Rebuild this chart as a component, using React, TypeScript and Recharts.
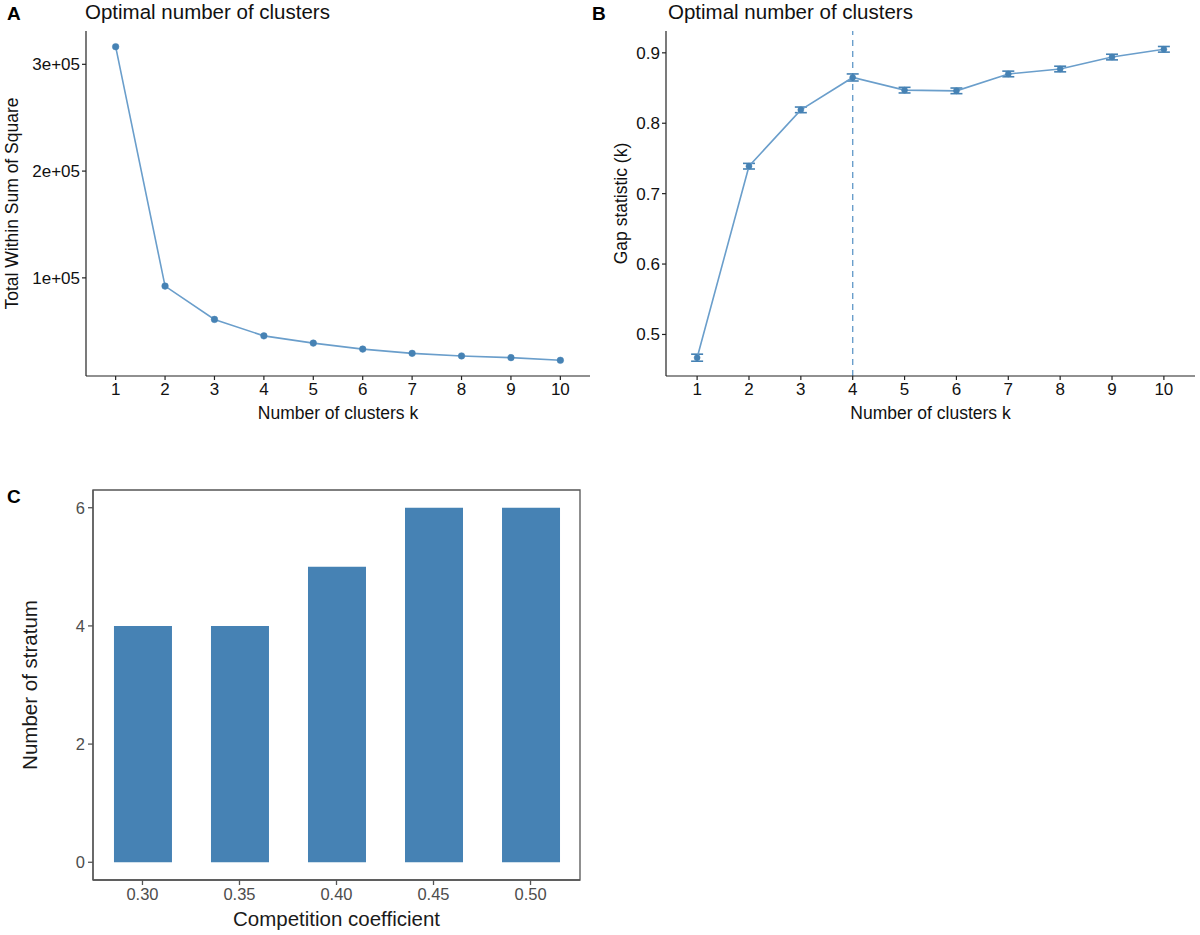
import React from "react";
import {
  LineChart,
  Line,
  BarChart,
  Bar,
  XAxis,
  YAxis,
  ErrorBar,
  ReferenceLine,
  ReferenceArea,
} from "recharts";

// k values shared by panels A and B
const clusterK = [1, 2, 3, 4, 5, 6, 7, 8, 9, 10];
// panel A: total within sum of square
const withinSS = [316500, 92300, 61100, 45700, 38900, 33300, 29300, 26900, 25300, 22800];
const wssTicks = [100000, 200000, 300000];
// panel B: gap statistic and its standard error
const gapStat = [0.467, 0.739, 0.819, 0.865, 0.847, 0.846, 0.87, 0.877, 0.894, 0.905];
const gapSe = [0.005, 0.004, 0.004, 0.005, 0.004, 0.004, 0.004, 0.004, 0.004, 0.004];
const gapTicks = [0.5, 0.6, 0.7, 0.8, 0.9];
const optimalK = 4;
// panel C: number of stratum per competition coefficient
const coefficients = [0.3, 0.35, 0.4, 0.45, 0.5];
const strata = [4, 4, 5, 6, 6];
const strataTicks = [0, 2, 4, 6];

const FONT = "'Liberation Sans', Arial, sans-serif";
const BLUE = "#4682B4";
const LINE_BLUE = "#6a9ecb";

const elbowData = clusterK.map((k, i) => ({ k, wss: withinSS[i] }));
const gapData = clusterK.map((k, i) => ({ k, gap: gapStat[i], se: gapSe[i] }));
const strataData = coefficients.map((c, i) => ({ coef: c, n: strata[i] }));

const C_X_DOMAIN: [number, number] = [0.2745, 0.5255];
const C_Y_DOMAIN: [number, number] = [-0.3, 6.3];

const blackTick = { fill: "#111", fontSize: 17, fontFamily: FONT };
const greyTick = { fill: "#4d4d4d", fontSize: 16.5, fontFamily: FONT };
const axisTitle = { fill: "#111", fontSize: 17.5, fontFamily: FONT };
const axisStroke = { stroke: "#222", strokeWidth: 1.2 };
const greyStroke = { stroke: "#555", strokeWidth: 1.3 };

function PanelTag({ letter, x, y }: { letter: string; x: number; y: number }) {
  return (
    <div
      style={{
        position: "absolute",
        left: x,
        top: y,
        fontFamily: FONT,
        fontWeight: 700,
        fontSize: 19,
        color: "#000",
      }}
    >
      {letter}
    </div>
  );
}

function Title({ text, x, y }: { text: string; x: number; y: number }) {
  return (
    <div
      style={{
        position: "absolute",
        left: x,
        top: y,
        fontFamily: FONT,
        fontSize: 20.5,
        color: "#111",
        whiteSpace: "nowrap",
      }}
    >
      {text}
    </div>
  );
}

export default function App() {
  return (
    <div
      style={{
        position: "absolute",
        left: 0,
        top: 0,
        width: 1200,
        height: 935,
        background: "#fff",
        fontFamily: FONT,
      }}
    >
      <PanelTag letter="A" x={7} y={3} />
      <Title text="Optimal number of clusters" x={85} y={0} />
      <div style={{ position: "absolute", left: 0, top: 0 }}>
        <LineChart
          width={600}
          height={430}
          data={elbowData}
          margin={{ top: 31, right: 10, left: 0, bottom: 0 }}
        >
          <XAxis
            dataKey="k"
            type="number"
            domain={[0.4, 10.6]}
            ticks={clusterK}
            interval={0}
            height={54}
            tick={blackTick}
            tickSize={4}
            tickMargin={3}
            axisLine={axisStroke}
            tickLine={axisStroke}
            label={{
              value: "Number of clusters k",
              position: "insideBottom",
              offset: 11,
              style: axisTitle,
            }}
          />
          <YAxis
            type="number"
            domain={[8100, 331200]}
            ticks={wssTicks}
            width={86}
            tick={blackTick}
            tickSize={4}
            tickMargin={2}
            tickFormatter={(v: number) => `${Math.round(v / 1e5)}e+05`}
            axisLine={axisStroke}
            tickLine={axisStroke}
            label={{
              value: "Total Within Sum of Square",
              angle: -90,
              position: "insideLeft",
              offset: 12,
              style: { ...axisTitle, textAnchor: "middle" },
            }}
          />
          <Line
            dataKey="wss"
            stroke={LINE_BLUE}
            strokeWidth={1.6}
            dot={{ r: 3.3, fill: BLUE, stroke: BLUE, strokeWidth: 0.5 }}
            isAnimationActive={false}
          />
        </LineChart>
      </div>

      <PanelTag letter="B" x={592} y={3} />
      <Title text="Optimal number of clusters" x={668} y={0} />
      <div style={{ position: "absolute", left: 580, top: 0 }}>
        <LineChart
          width={620}
          height={430}
          data={gapData}
          margin={{ top: 31, right: 5, left: 0, bottom: 0 }}
        >
          <XAxis
            dataKey="k"
            type="number"
            domain={[0.4, 10.6]}
            ticks={clusterK}
            interval={0}
            height={54}
            tick={blackTick}
            tickSize={4}
            tickMargin={3}
            axisLine={axisStroke}
            tickLine={axisStroke}
            label={{
              value: "Number of clusters k",
              position: "insideBottom",
              offset: 11,
              style: axisTitle,
            }}
          />
          <YAxis
            type="number"
            domain={[0.441, 0.931]}
            ticks={gapTicks}
            width={86}
            tick={blackTick}
            tickSize={4}
            tickMargin={2}
            axisLine={axisStroke}
            tickLine={axisStroke}
            label={{
              value: "Gap statistic (k)",
              angle: -90,
              position: "insideLeft",
              offset: 41,
              style: { ...axisTitle, textAnchor: "middle" },
            }}
          />
          <ReferenceLine
            x={optimalK}
            stroke={LINE_BLUE}
            strokeWidth={1.4}
            strokeDasharray="6 5"
          />
          <Line
            dataKey="gap"
            stroke={LINE_BLUE}
            strokeWidth={1.6}
            dot={{ r: 3, fill: BLUE, stroke: BLUE, strokeWidth: 0.5 }}
            isAnimationActive={false}
          >
            <ErrorBar dataKey="se" direction="y" width={6} stroke={BLUE} strokeWidth={1.6} />
          </Line>
        </LineChart>
      </div>

      <PanelTag letter="C" x={7} y={486} />
      <div style={{ position: "absolute", left: 0, top: 470 }}>
        <BarChart
          width={600}
          height={465}
          data={strataData}
          margin={{ top: 20, right: 20, left: 0, bottom: 0 }}
        >
          <XAxis
            dataKey="coef"
            type="number"
            domain={C_X_DOMAIN}
            ticks={coefficients}
            interval={0}
            tickFormatter={(v: number) => v.toFixed(2)}
            height={55}
            tick={greyTick}
            tickSize={5}
            tickMargin={3}
            axisLine={greyStroke}
            tickLine={greyStroke}
            label={{
              value: "Competition coefficient",
              position: "insideBottom",
              offset: 9,
              style: { fill: "#1a1a1a", fontSize: 20.5, fontFamily: FONT },
            }}
          />
          <YAxis
            type="number"
            domain={C_Y_DOMAIN}
            ticks={strataTicks}
            width={93}
            tick={greyTick}
            tickSize={5}
            tickMargin={3}
            axisLine={greyStroke}
            tickLine={greyStroke}
            label={{
              value: "Number of stratum",
              angle: -90,
              position: "insideLeft",
              offset: 30,
              style: { fill: "#1a1a1a", fontSize: 20.5, fontFamily: FONT, textAnchor: "middle" },
            }}
          />
          <ReferenceArea
            x1={C_X_DOMAIN[0]}
            x2={C_X_DOMAIN[1]}
            y1={C_Y_DOMAIN[0]}
            y2={C_Y_DOMAIN[1]}
            fill="none"
            fillOpacity={0}
            stroke="#555"
            strokeWidth={1.3}
          />
          <Bar dataKey="n" fill={BLUE} barSize={58} isAnimationActive={false} />
        </BarChart>
      </div>
    </div>
  );
}
